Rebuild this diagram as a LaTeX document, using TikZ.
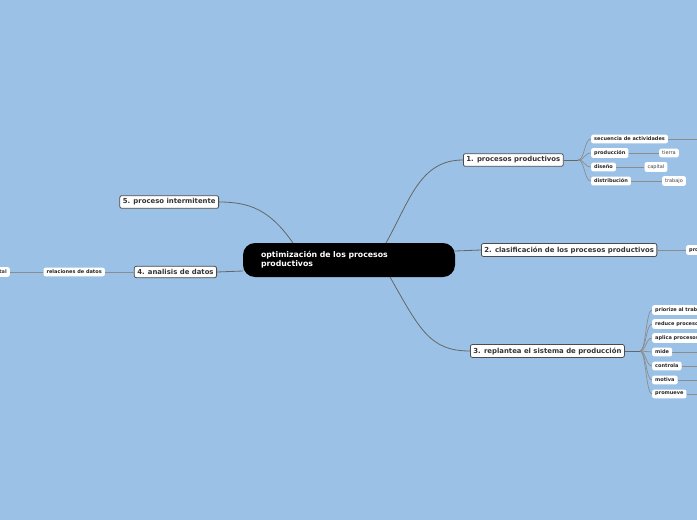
\documentclass[tikz,border=0pt]{standalone}
\usepackage{fontspec}
\setmainfont{DejaVu Sans}
\begin{document}
\begin{tikzpicture}[x=1pt,y=-1pt,
  main/.style={draw=black!70,fill=white,rounded corners=2pt,font=\fontsize{6.9}{8}\selectfont\bfseries,text=black!80,inner xsep=3pt,inner ysep=3pt,line width=0.8pt},
  sub/.style={fill=white,rounded corners=2pt,font=\fontsize{5}{6}\selectfont\bfseries,text=black!85,inner xsep=3pt,inner ysep=2.4pt},
  leaf/.style={fill=white,rounded corners=2pt,font=\fontsize{5}{6}\selectfont,text=black!75,inner xsep=3pt,inner ysep=2.4pt},
  con/.style={draw=black!60,line width=0.8pt},
  scon/.style={draw=black!45,line width=0.7pt}]
\fill[fill={rgb,255:red,155;green,194;blue,230}] (0,0) rectangle (697,520);
\clip (0,0) rectangle (697,520);
\node[fill=black,rounded corners=12pt,minimum width=212pt,minimum height=34pt,text=white,font=\fontsize{7.8}{9}\selectfont\bfseries,align=left,text width=176pt] (c) at (349,260) {optimización de los procesos\\productivos};
\node[main,anchor=west] (n1) at (463,160) {1. procesos productivos};
\node[main,anchor=west] (n2) at (481,250) {2. clasificación de los procesos productivos};
\node[main,anchor=west] (n3) at (470,351) {3. replantea el sistema de producción};
\node[main,anchor=east] (n4) at (217,272) {4. analisis de datos};
\node[main,anchor=east] (n5) at (219,202) {5. proceso intermitente};
\draw[con] (386,243) .. controls (410,200) and (420,160) .. (n1.west);
\draw[con] (455,251) -- (n2.west);
\draw[con] (390,277) .. controls (420,330) and (430,351) .. (n3.west);
\draw[con] (243,271) -- (n4.east);
\draw[con] (293,243) .. controls (270,210) and (250,202) .. (n5.east);
% n1 children
\coordinate (f1) at (578,160);
\draw[con] (n1.east) -- (f1);
\foreach \t/\y/\k in {secuencia de actividades/139/a,producción/153/b,diseño/167/c,distribución/181/d}{
  \node[sub,anchor=west] (s\k) at (591,\y) {\t};
  \draw[scon] (f1) .. controls (585,160) and (584,\y) .. (s\k.west);
}
\coordinate (ea) at (700,139);
\draw[scon] (sa.east) -- (ea);
\node[leaf] (tb) at (669,153) {tierra};
\node[leaf] (tc) at (656,167) {capital};
\node[leaf] (td) at (674,181) {trabajo};
\draw[scon] (sb.east) -- (tb.west);
\draw[scon] (sc.east) -- (tc.west);
\draw[scon] (sd.east) -- (td.west);
% n2 child
\node[sub,anchor=west] (p2) at (686,250) {producción};
\draw[scon] (n2.east) -- (p2.west);
% n3 children
\coordinate (f3) at (640,351);
\draw[con] (n3.east) -- (f3);
\foreach \t/\y/\k in {priorize al trabajo/310/a,reduce procesos/324/b,aplica procesos/338/c,mide/352/d,controla/366/e,motiva/380/f,promueve/394/g}{
  \node[sub,anchor=west] (r\k) at (652,\y) {\t};
  \draw[scon] (f3) .. controls (646,351) and (646,\y) .. (r\k.west);
  \coordinate (e\k) at (700,\y);
  \draw[scon] (r\k.east) -- (e\k);
}
% n4 children
\node[sub,anchor=east] (rd) at (105,272) {relaciones de datos};
\node[leaf,anchor=east,font=\fontsize{5}{6}\selectfont\bfseries] (ex) at (10,272) {experimental};
\draw[scon] (n4.west) -- (rd.east);
\draw[scon] (rd.west) -- (ex.east);
\end{tikzpicture}
\end{document}
